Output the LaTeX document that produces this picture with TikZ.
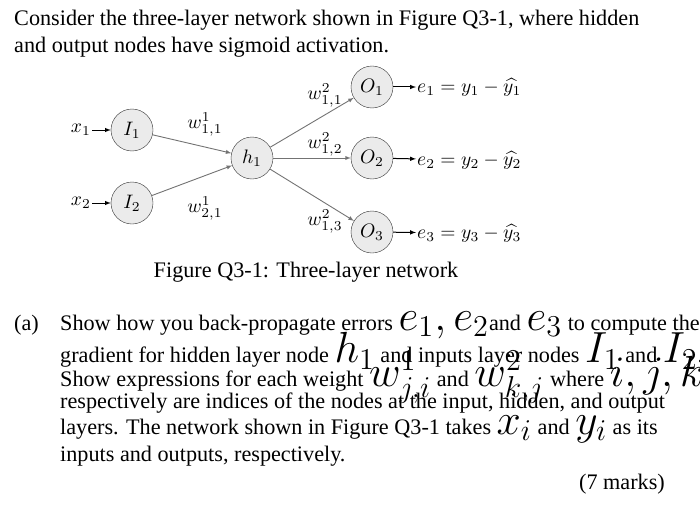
\documentclass[tikz,border=0pt]{standalone}
\usepackage{graphicx}
\usepackage{fontspec}
\setmainfont{Liberation Serif}
\newcommand{\Mb}[1]{\scalebox{1.95}{$#1$}}
\newcommand{\Mt}[1]{\scalebox{2.1}{$#1$}}
\begin{document}
\begin{tikzpicture}[x=1pt,y=-1pt,
  neuron/.style={circle,draw=black!80,fill=black!8,minimum size=42pt,inner sep=0pt},
  lbl/.style={inner sep=1pt},
  txt/.style={font=\fontsize{22.2}{26}\selectfont,anchor=west,inner sep=0pt},
  conn/.style={draw=black!55,-latex,line width=0.9pt},
  inp/.style={draw=black,-latex,line width=1pt}]
\useasboundingbox (0,0) rectangle (700,508);
\node[txt] (t1) at (14,20) {Consider the three-layer network shown in Figure Q3-1, where hidden};
\node[txt] (t2) at (14,47) {and output nodes have sigmoid activation.};
\node[neuron] (I1) at (132,130) {\Mb{I_1}};
\node[neuron] (I2) at (132,203) {\Mb{I_2}};
\node[neuron] (h1) at (252,158) {\Mb{h_1}};
\node[neuron] (O1) at (372,87) {\Mb{O_1}};
\node[neuron] (O2) at (372,158) {\Mb{O_2}};
\node[neuron] (O3) at (372,232) {\Mb{O_3}};
\node[lbl,anchor=east] (x1) at (92,130) {\Mb{x_1}};
\node[lbl,anchor=east] (x2) at (92,203) {\Mb{x_2}};
\draw[inp] (x1) -- (I1);
\draw[inp] (x2) -- (I2);
\draw[conn] (I1) -- (h1);
\draw[conn] (I2) -- (h1);
\draw[conn] (h1) -- (O1);
\draw[conn] (h1) -- (O2);
\draw[conn] (h1) -- (O3);
\node[lbl,anchor=west] (e1) at (416,87) {\Mb{e_1 = y_1 - \widehat{y_1}}};
\node[lbl,anchor=west] (e2) at (416,160) {\Mb{e_2 = y_2 - \widehat{y_2}}};
\node[lbl,anchor=west] (e3) at (416,233) {\Mb{e_3 = y_3 - \widehat{y_3}}};
\draw[inp] (O1) -- (e1);
\draw[inp] (O2) -- (e2);
\draw[inp] (O3) -- (e3);
\node[lbl] (w11) at (205,124) {\Mb{w^1_{1,1}}};
\node[lbl] (w21) at (205,208) {\Mb{w^1_{2,1}}};
\node[lbl] (v11) at (325,95) {\Mb{w^2_{1,1}}};
\node[lbl] (v12) at (325,144) {\Mb{w^2_{1,2}}};
\node[lbl] (v13) at (325,221) {\Mb{w^2_{1,3}}};
\node[txt,anchor=center] (cap) at (306,272) {Figure Q3-1: Three-layer network};
\node[txt] (a) at (14,325) {(a)};
\node[txt] (p1) at (60,325) {Show how you back-propagate errors \Mt{e_1, e_2}and \Mt{e_3} to compute the};
\node[txt] (p2) at (60,351) {gradient for hidden layer node \Mt{h_1} and inputs layer nodes \Mt{I_1} and \Mt{I_2}.};
\node[txt] (p3) at (60,377) {Show expressions for each weight \Mt{w^1_{j,i}} and \Mt{w^2_{k,j}} where \Mt{i,j,k}};
\node[txt] (p4) at (60,403) {respectively are indices of the nodes at the input, hidden, and output};
\node[txt] (p5) at (60,429) {layers. The network shown in Figure Q3-1 takes \Mt{x_i} and \Mt{y_i} as its};
\node[txt] (p6) at (60,456) {inputs and outputs, respectively.};
\node[txt,anchor=east] (m) at (665,484) {(7 marks)};
\end{tikzpicture}
\end{document}
